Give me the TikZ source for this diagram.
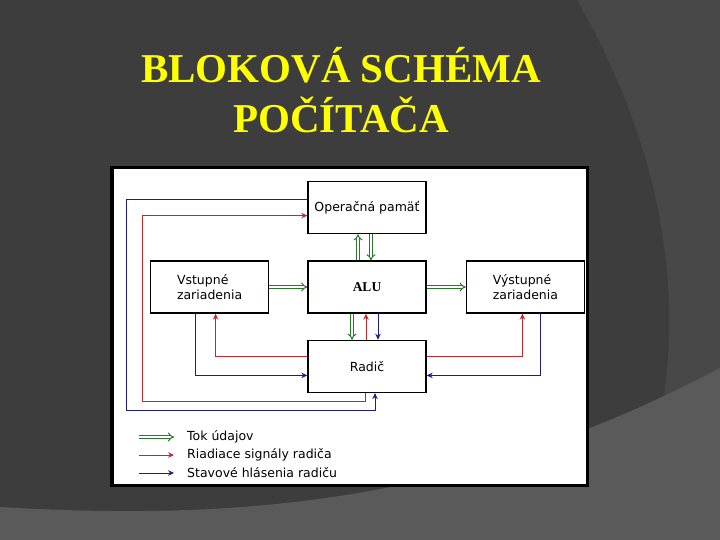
\documentclass[tikz,border=0pt]{standalone}
\usepackage{fontspec}
\setmainfont{DejaVu Sans}
\newfontfamily\nadpisfont{Liberation Serif}
\usepackage{tikz}
\usetikzlibrary{arrows.meta}
\usetikzlibrary{positioning}
\usetikzlibrary{calc}

\definecolor{pozadie}{RGB}{61,61,61}
\definecolor{svetla}{RGB}{72,72,72}
\definecolor{spodna}{RGB}{90,90,90}
\definecolor{zlta}{RGB}{255,255,0}
\definecolor{zelena}{RGB}{40,120,40}
\definecolor{cervena}{RGB}{192,40,45}
\definecolor{modra}{RGB}{28,28,140}

\tikzset{
    blok/.style={draw, line width=1.4pt, fill=white, minimum width=118pt,
        minimum height=52pt, align=left, font=\fontsize{12.5}{15}\selectfont},
    tok/.style={draw=zelena, line width=1pt, double=white, double distance=2pt, -{Implies}},
    riad/.style={draw=cervena, line width=1pt, -{Stealth[length=6pt,width=5.5pt]}},
    stav/.style={draw=modra, line width=1pt, -{Stealth[length=6pt,width=5.5pt]}},
    popis/.style={anchor=west, inner sep=0pt, font=\fontsize{12.5}{14}\selectfont},
    nadpis/.style={anchor=base, text=zlta, font=\nadpisfont\bfseries\fontsize{41}{41}\selectfont}
}

\begin{document}
\begin{tikzpicture}[x=1pt, y=-1pt]
    \useasboundingbox (0,0) rectangle (720,540);

    % pozadie
    \fill[pozadie] (0,0) rectangle (720,540);
    \fill[svetla] (577,0) .. controls (640,110) and (688,250) .. (662,410) -- (720,380) -- (720,0) -- cycle;
    \fill[spodna] (0,507) .. controls (250,522) and (470,500) .. (720,368) -- (720,540) -- (0,540) -- cycle;

    % nadpis
    \node[nadpis] (nadpis1) at (341,83) {BLOKOVÁ SCHÉMA};
    \node[nadpis] (nadpis2) at (341,133) {POČÍTAČA};

    % biela plocha
    \draw[line width=3.5pt, fill=white] (111.75,167.75) rectangle (587.25,485.25);

    % bloky
    \node[blok] (alu) at (367,287) {\nadpisfont\bfseries\fontsize{13.5}{15}\selectfont ALU};
    \node[blok, above=26pt of alu] (pamat) {Operačná pamäť};
    \node[blok, below=26pt of alu] (radic) {Radič};
    \node[blok, left=38pt of alu] (vstup) {Vstupné\\zariadenia};
    \node[blok, right=39pt of alu] (vystup) {Výstupné\\zariadenia};

    % tok udajov
    \draw[tok] (vstup) -- (alu);
    \draw[tok] (alu) -- (vystup);
    \draw[tok] ($(alu.north)+(-9,0)$) -- ($(pamat.south)+(-9,0)$);
    \draw[tok] ($(pamat.south)+(4,0)$) -- ($(alu.north)+(4,0)$);
    \draw[tok] ($(alu.south)+(-15,0)$) -- ($(radic.north)+(-15,0)$);

    % signaly radica a hlasenia
    \draw[riad] ($(radic.north)+(-1,0)$) -- ($(alu.south)+(-1,0)$);
    \draw[stav] ($(alu.south)+(11,0)$) -- ($(radic.north)+(11,0)$);
    \draw[riad] ($(radic.west)+(0,-10)$) -| ($(vstup.south)+(6,0)$);
    \draw[stav] ($(vstup.south)+(-14,0)$) |- ($(radic.west)+(0,9)$);
    \draw[riad] ($(radic.east)+(0,-10)$) -| ($(vystup.south)+(-3,0)$);
    \draw[stav] ($(vystup.south)+(15,0)$) |- ($(radic.east)+(0,9)$);
    \draw[riad] ($(radic.south)+(-2,0)$) |- (142,401) |- ($(pamat.west)+(0,8)$);
    \draw[stav] ($(pamat.west)+(0,-8)$) -| (126,410) -| ($(radic.south)+(8,0)$);

    % legenda
    \node[popis] (ltok) at (187,437) {Tok údajov};
    \node[popis] (lriad) at (187,455) {Riadiace signály radiča};
    \node[popis] (lstav) at (187,473) {Stavové hlásenia radiču};
    \draw[tok] ($(ltok.west)+(-48,0)$) -- ($(ltok.west)+(-13,0)$);
    \draw[riad] ($(lriad.west)+(-48,0)$) -- ($(lriad.west)+(-13,0)$);
    \draw[stav] ($(lstav.west)+(-48,0)$) -- ($(lstav.west)+(-13,0)$);
\end{tikzpicture}
\end{document}
